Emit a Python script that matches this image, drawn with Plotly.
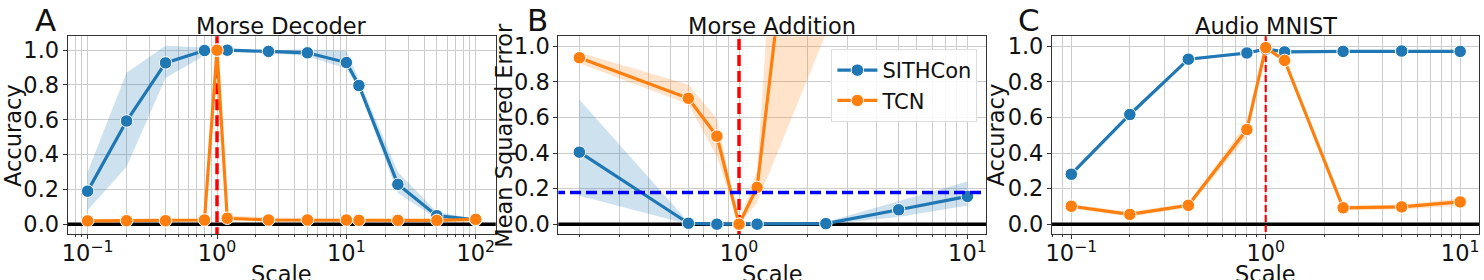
import math
import plotly.graph_objects as go

# ---------------- data ----------------
A_x = [0.1, 0.2, 0.4, 0.8, 1.0, 1.2, 2.5, 5, 10, 12.5, 25, 50, 100]
A_sith = [0.19, 0.593, 0.927, 0.998, 1.0, 1.0, 0.993, 0.985, 0.929, 0.797, 0.229, 0.049, 0.025]
A_sith_lo = [0.08, 0.33, 0.84, 0.97, 0.995, 0.995, 0.985, 0.965, 0.895, 0.775, 0.18, 0.03, 0.02]
A_sith_hi = [0.30, 0.87, 1.025, 1.015, 1.0, 1.0, 1.0, 1.005, 0.995, 0.83, 0.30, 0.07, 0.03]
A_tcn = [0.019, 0.02, 0.02, 0.024, 1.0, 0.034, 0.024, 0.024, 0.024, 0.022, 0.022, 0.022, 0.028]
A_tcn_lo = [0.014, 0.015, 0.015, 0.019, 0.995, 0.022, 0.016, 0.018, 0.018, 0.017, 0.017, 0.017, 0.023]
A_tcn_hi = [0.024, 0.025, 0.025, 0.029, 1.0, 0.05, 0.04, 0.035, 0.032, 0.027, 0.027, 0.027, 0.033]

B_x = [0.2, 0.6, 0.8, 1.0, 1.2, 2.4, 5, 10]
B_sith = [0.405, 0.005, 0.0, 0.0, 0.0, 0.003, 0.081, 0.156]
B_sith_lo = [0.16, 0.0, 0.0, 0.0, 0.0, 0.0, 0.04, 0.105]
B_sith_hi = [0.70, 0.012, 0.004, 0.003, 0.004, 0.012, 0.13, 0.24]
B_tcn = [0.936, 0.708, 0.495, 0.0, 0.207, 3.5, 4.0, 4.5]
B_tcn_lo = [0.905, 0.675, 0.38, 0.0, 0.12, 1.07, 2.5, 3.0]
B_tcn_hi = [0.965, 0.785, 0.593, 0.01, 0.30, 6.0, 6.0, 6.0]
B_baseline = 0.178

C_x = [0.1, 0.2, 0.4, 0.8, 1.0, 1.25, 2.5, 5, 10]
C_sith = [0.281, 0.617, 0.928, 0.963, 0.985, 0.969, 0.972, 0.974, 0.972]
C_sith_lo = [0.271, 0.605, 0.92, 0.955, 0.978, 0.962, 0.966, 0.968, 0.966]
C_sith_hi = [0.291, 0.629, 0.936, 0.971, 0.992, 0.976, 0.978, 0.98, 0.978]
C_tcn = [0.101, 0.055, 0.106, 0.532, 0.993, 0.921, 0.092, 0.097, 0.125]
C_tcn_lo = [0.088, 0.042, 0.093, 0.495, 0.985, 0.905, 0.08, 0.083, 0.105]
C_tcn_hi = [0.114, 0.068, 0.119, 0.57, 1.0, 0.937, 0.104, 0.111, 0.145]

REF_SCALE = 1.0
titles = ["Morse Decoder", "Morse Addition", "Audio MNIST"]
ylabels = ["Accuracy", "Mean Squared Error", "Accuracy"]
letters = ["A", "B", "C"]
series_names = ["SITHCon", "TCN"]
y_ticks = [0.0, 0.2, 0.4, 0.6, 0.8, 1.0]

# ---------------- style ----------------
W, H = 1484, 280
BLUE = "#1f77b4"
ORANGE = "#ff7f0e"
FONT = "DejaVu Sans"
TXT = "#111111"
GRID = "#cccccc"
FS = 22.5

def px_x(p):
    return p / W

def px_y(p):
    return 1 - p / H

panels = [
    dict(x=A_x, s=(A_sith, A_sith_lo, A_sith_hi), t=(A_tcn, A_tcn_lo, A_tcn_hi),
         dom=(61, 491), xr=(-1.154, 2.154), yr=(-0.056, 1.08), vw=3.5, vdash="11px,5px",
         majors=[0.1, 1, 10, 100], labels=["10<sup>−1</sup>", "10<sup>0</sup>", "10<sup>1</sup>", "10<sup>2</sup>"]),
    dict(x=B_x, s=(B_sith, B_sith_lo, B_sith_hi), t=(B_tcn, B_tcn_lo, B_tcn_hi),
         dom=(554, 984), xr=(-0.791, 1.083), yr=(-0.055, 1.057), vw=3.5, vdash="11px,5px",
         majors=[1, 10], labels=["10<sup>0</sup>", "10<sup>1</sup>"]),
    dict(x=C_x, s=(C_sith, C_sith_lo, C_sith_hi), t=(C_tcn, C_tcn_lo, C_tcn_hi),
         dom=(1050, 1479), xr=(-1.099, 1.097), yr=(-0.055, 1.057), vw=2.2, vdash="7px,3px",
         majors=[0.1, 1, 10], labels=["10<sup>−1</sup>", "10<sup>0</sup>", "10<sup>1</sup>"]),
]

minor_vals = [m * 10 ** e for e in range(-2, 3) for m in range(2, 10)]

fig = go.Figure()
layout = dict(
    width=W, height=H, margin=dict(l=0, r=0, t=0, b=0),
    plot_bgcolor="white", paper_bgcolor="white",
    font=dict(family=FONT, size=FS, color=TXT),
    showlegend=True,
    legend=dict(x=px_x(975), y=px_y(47), xanchor="right", yanchor="top",
                bgcolor="rgba(255,255,255,0.85)", bordercolor="#dddddd", borderwidth=1,
                font=dict(family=FONT, size=21, color=TXT), itemwidth=40,
                tracegroupgap=0),
)
annotations = []

for i, p in enumerate(panels):
    k = "" if i == 0 else str(i + 1)
    xa, ya = "x" + k, "y" + k
    color_sets = [(BLUE, p["s"], series_names[0]), (ORANGE, p["t"], series_names[1])]
    # bands
    for col, (m, lo, hi), nm in color_sets:
        rgba = "rgba(31,119,180,0.22)" if col == BLUE else "rgba(255,127,14,0.22)"
        fig.add_trace(go.Scatter(
            x=list(p["x"]) + list(p["x"])[::-1], y=list(hi) + list(lo)[::-1],
            fill="toself", fillcolor=rgba, line=dict(width=0), mode="lines",
            hoverinfo="skip", showlegend=False, xaxis=xa, yaxis=ya))
    # zero line
    fig.add_trace(go.Scatter(x=[10 ** (p["xr"][0] - 1), 10 ** (p["xr"][1] + 1)], y=[0, 0],
                             mode="lines", line=dict(color="black", width=3.5),
                             showlegend=False, hoverinfo="skip", xaxis=xa, yaxis=ya))
    # reference scale line
    fig.add_trace(go.Scatter(x=[REF_SCALE, REF_SCALE], y=[-1, 2], mode="lines",
                             line=dict(color="red", width=p["vw"], dash=p["vdash"]),
                             showlegend=False, hoverinfo="skip", xaxis=xa, yaxis=ya))
    # series lines
    for col, (m, lo, hi), nm in color_sets:
        fig.add_trace(go.Scatter(
            x=p["x"], y=m, mode="lines+markers", name=nm,
            line=dict(color=col, width=3.2),
            marker=dict(color=col, size=12.5, line=dict(color="white", width=1)),
            showlegend=(i == 1), xaxis=xa, yaxis=ya))
    if i == 1:
        fig.add_trace(go.Scatter(x=[10 ** (p["xr"][0] - 1), 10 ** (p["xr"][1] + 1)],
                                 y=[B_baseline, B_baseline], mode="lines",
                                 line=dict(color="#0000ff", width=3.5, dash="11px,5px"),
                                 showlegend=False, hoverinfo="skip", xaxis=xa, yaxis=ya))

    x0, x1 = p["dom"]
    layout["xaxis" + k] = dict(
        type="log", domain=[x0 / W, x1 / W], range=list(p["xr"]), anchor=ya,
        tickvals=p["majors"], ticktext=p["labels"], ticks="outside", ticklen=4,
        tickcolor="#333333", showgrid=True, gridcolor=GRID, gridwidth=1.2,
        ticklabelstandoff=-5,
        minor=dict(tickvals=minor_vals, showgrid=True, gridcolor=GRID, gridwidth=1.2,
                   ticks="outside", ticklen=2, tickcolor="#333333"),
        showline=True, linecolor="#333333", linewidth=1.2, mirror=True,
        zeroline=False, tickfont=dict(size=FS, family=FONT, color=TXT))
    layout["yaxis" + k] = dict(
        domain=[px_y(236), px_y(34)], range=list(p["yr"]), anchor=xa,
        tickvals=y_ticks, tickformat=".1f", ticks="outside", ticklen=4, tickcolor="#333333",
        showgrid=True, gridcolor=GRID, gridwidth=1.2, ticklabelstandoff=-1,
        showline=True, linecolor="#333333", linewidth=1.2, mirror=True,
        zeroline=False, tickfont=dict(size=FS, family=FONT, color=TXT))

    cx = (x0 + x1) / 2
    annotations.append(dict(text=titles[i], x=px_x(cx), y=px_y(23)))
    annotations.append(dict(text="Scale", x=px_x(cx), y=px_y(277)))

annotations += [
    dict(text=ylabels[0], x=px_x(6), y=px_y(135), textangle=-90),
    dict(text=ylabels[1], x=px_x(499), y=px_y(135), textangle=-90),
    dict(text=ylabels[2], x=px_x(994), y=px_y(135), textangle=-90),
    dict(text=letters[0], x=px_x(39), y=px_y(17), font=dict(size=31, family=FONT, color=TXT)),
    dict(text=letters[1], x=px_x(533), y=px_y(17), font=dict(size=31, family=FONT, color=TXT)),
    dict(text=letters[2], x=px_x(1027), y=px_y(17), font=dict(size=31, family=FONT, color=TXT)),
]
for a in annotations:
    a.setdefault("xref", "paper")
    a.setdefault("yref", "paper")
    a.setdefault("xanchor", "center")
    a.setdefault("yanchor", "middle")
    a.setdefault("showarrow", False)
    a.setdefault("font", dict(size=FS, family=FONT, color=TXT))

layout["annotations"] = annotations
fig.update_layout(**layout)
fig.write_html("out.html")
